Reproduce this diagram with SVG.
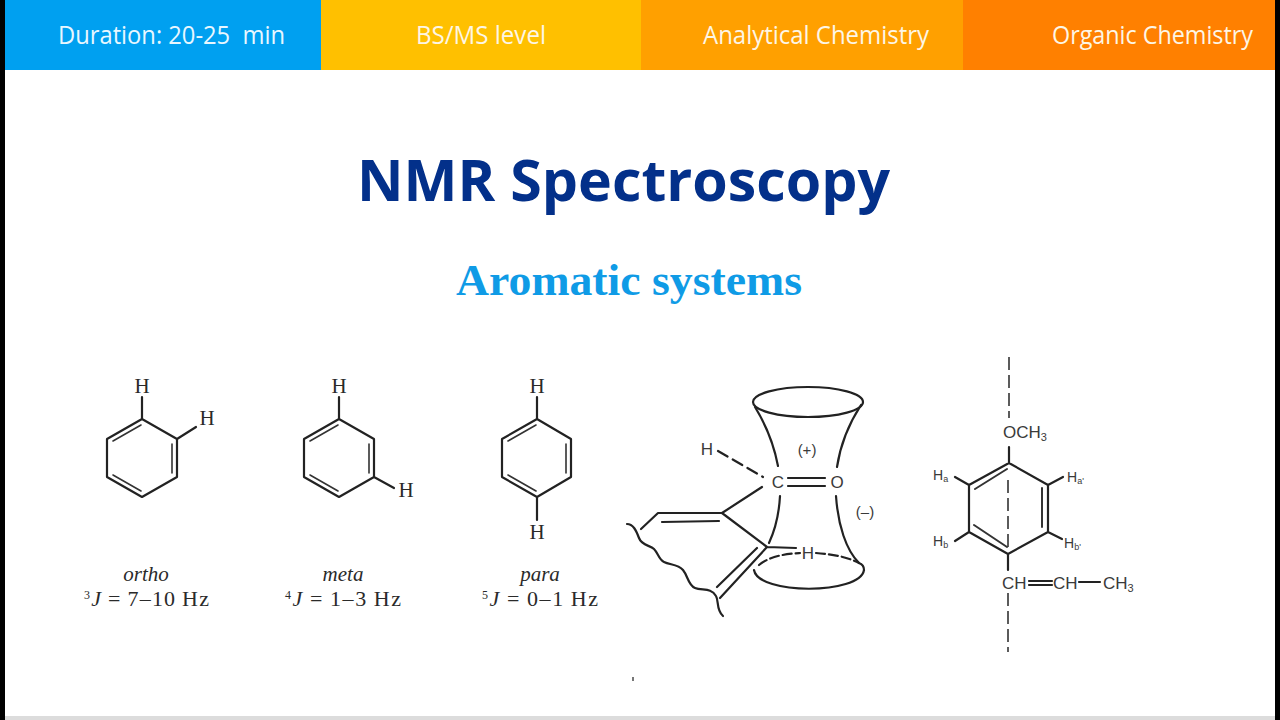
<svg xmlns="http://www.w3.org/2000/svg" width="1280" height="720" viewBox="0 0 1280 720">
<style>
.hd{font-family:"Open Sans","Noto Sans",sans-serif;font-size:25px;fill:#fdf6e6}
.s{font-family:"Liberation Serif",serif;fill:#2a2a2a}
.h{font-size:21px;text-anchor:middle}
.lb{font-size:21px}
.j{font-size:22px;word-spacing:-1px}
.sup{font-size:12px}
.a{font-family:"Liberation Sans",sans-serif;fill:#3a3a3a}
.b{fill:none;stroke:#222;stroke-width:2.2;stroke-linecap:round;stroke-linejoin:round}
.t{fill:none;stroke:#333;stroke-width:1.6;stroke-linecap:round}
.d{stroke-dasharray:13 5;stroke-linecap:butt}
</style>
<rect width="1280" height="720" fill="#fff"/>
<rect x="0" y="716" width="1280" height="4" fill="#dcdcdc"/>
<rect x="0" y="0" width="5" height="720" fill="#000"/>
<rect x="1275" y="0" width="5" height="720" fill="#000"/>
<g id="header">
<rect x="5" width="316" height="70" fill="#00a0f0"/>
<rect x="321" width="320" height="70" fill="#ffc000"/>
<rect x="641" width="322" height="70" fill="#ffa000"/>
<rect x="963" width="312" height="70" fill="#ff8000"/>
<text class="hd" x="58" y="44" style="fill:#e8f7ff" textLength="227" lengthAdjust="spacingAndGlyphs" xml:space="preserve">Duration: 20-25  min</text>
<text class="hd" x="416" y="44" textLength="130" lengthAdjust="spacingAndGlyphs">BS/MS level</text>
<text class="hd" x="703" y="44" textLength="226" lengthAdjust="spacingAndGlyphs">Analytical Chemistry</text>
<text class="hd" x="1052" y="44" textLength="201" lengthAdjust="spacingAndGlyphs">Organic Chemistry</text>
</g>
<g id="title">
<text x="357" y="201" font-family="'Open Sans','Noto Sans',sans-serif" font-weight="700" font-size="58" fill="#03308a" textLength="533" lengthAdjust="spacingAndGlyphs">NMR Spectroscopy</text>
<text x="456" y="295" font-family="'Liberation Serif',serif" font-weight="700" font-size="44" fill="#0f9be6" textLength="346" lengthAdjust="spacingAndGlyphs">Aromatic systems</text>
</g>
<g id="ortho">
<path class="b" d="M142 419L177 439V477L142 497L107 477V439ZM142 419V397M177 439L196 427"/>
<path class="t" d="M113 441L141 425M172 444V473M113 475L141 491"/>
<text class="s h" x="142" y="393">H</text><text class="s h" x="207" y="425">H</text>
<text class="s lb" x="146" y="581" text-anchor="middle" font-style="italic">ortho</text>
<text class="s j" x="84" y="606" textLength="125"><tspan class="sup" dy="-7">3</tspan><tspan dy="7" font-style="italic">J</tspan> = 7–10 Hz</text>
</g>
<g id="meta">
<path class="b" d="M339 419L374 439V477L339 497L304 477V439ZM339 419V397M374 477L394 488"/>
<path class="t" d="M310 441L338 425M369 444V473M310 475L338 491"/>
<text class="s h" x="339" y="393">H</text><text class="s h" x="406" y="497">H</text>
<text class="s lb" x="343" y="581" text-anchor="middle" font-style="italic">meta</text>
<text class="s j" x="285" y="606" textLength="116"><tspan class="sup" dy="-7">4</tspan><tspan dy="7" font-style="italic">J</tspan> = 1–3 Hz</text>
</g>
<g id="para">
<path class="b" d="M537 419L571 439V477L537 497L502 477V439ZM537 419V397M537 497V520"/>
<path class="t" d="M508 441L536 425M566 444V473M508 475L536 491"/>
<text class="s h" x="537" y="393">H</text><text class="s h" x="537" y="539">H</text>
<text class="s lb" x="540" y="581" text-anchor="middle" font-style="italic">para</text>
<text class="s j" x="482" y="606" textLength="116"><tspan class="sup" dy="-7">5</tspan><tspan dy="7" font-style="italic">J</tspan> = 0–1 Hz</text>
</g>
<g id="cone">
<ellipse class="b" cx="808" cy="402" rx="55" ry="15"/>
<path class="b" d="M755 407C766 425 774 445 778 466M861 405C848 425 840 447 837 467M780 496C779 515 775 530 769 543M836 496C838 525 846 550 859 563M754 570C758 595 860 595 864 570C864 566 862 564 859 563"/>
<path class="b" stroke-dasharray="9 4" d="M759 565C770 556 785 554 800 553M816 553C830 554 845 556 859 563"/>
<path class="b" stroke-dasharray="11 6" d="M718 451L763 477"/>
<path class="b" d="M788 478H825M788 486H825M762 487L722 513M641 529L658 513H722L767 547L720 598M662 522L719 521M757 548L717 587M767 547L796 548"/>
<path class="b" d="M627 524C633 524 636 530 639 538C642 546 650 545 654 549C658 553 659 560 664 562C670 565 678 564 683 570C688 576 688 585 695 588C702 591 711 587 716 596C719 601 716 610 723 616"/>
<g class="a" text-anchor="middle" font-size="17"><text x="707" y="455">H</text><text x="778" y="488">C</text><text x="837" y="488">O</text><text x="807" y="455" font-size="15">(+)</text><text x="865" y="517" font-size="15">(–)</text><text x="808" y="559">H</text></g>
</g>
<g id="anisole">
<path class="b" d="M1009 463L1048 485V532L1008 554L969 532V485ZM1009 447V462M955 477L969 485M1063 477L1048 485M955 541L969 532M1062 539L1048 532M1008 554V570M1029 581H1052M1029 585H1052M1079 582H1100"/>
<path class="t" style="stroke-width:2" d="M975 489L1007 469M974 525L1007 547M1042 488V527"/>
<path class="t d" d="M1009 357V418M1008 480V547M1008 593V652"/>
<g class="a" font-size="17">
<text x="1003" y="438">OCH<tspan font-size="11" dy="3">3</tspan></text>
<text x="933" y="480" font-size="14">H<tspan font-size="9" dy="2">a</tspan></text>
<text x="1067" y="482" font-size="14">H<tspan font-size="9" dy="2">a'</tspan></text>
<text x="933" y="546" font-size="14">H<tspan font-size="9" dy="2">b</tspan></text>
<text x="1064" y="548" font-size="14">H<tspan font-size="9" dy="2">b'</tspan></text>
<text x="1002" y="589">CH</text><text x="1053" y="589">CH</text>
<text x="1103" y="589">CH<tspan font-size="11" dy="3">3</tspan></text>
</g>
</g>
<rect x="632" y="677" width="2" height="4" fill="#777"/>
</svg>
